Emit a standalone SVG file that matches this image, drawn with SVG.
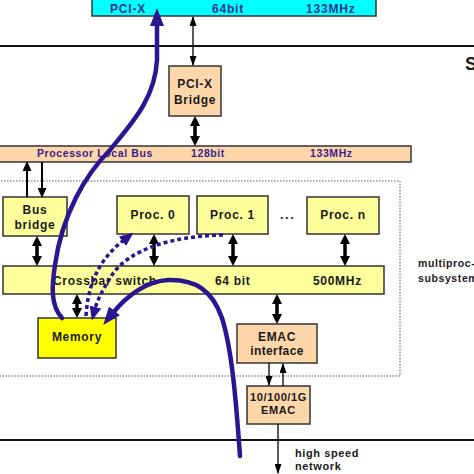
<svg xmlns="http://www.w3.org/2000/svg" width="474" height="474" viewBox="0 0 474 474">
<style>
  .box{stroke:#333;stroke-width:1.5}
  .peach{fill:#fdd7aa}
  .ly{fill:#ffff9c}
  .my{fill:#ffff00}
  .cy{fill:#00ffff}
  .t{font-family:"Liberation Sans",Arial,sans-serif;font-weight:bold;font-size:12px;fill:#1a1a1a;letter-spacing:0.7px}
  .c{text-anchor:middle}
  .bt{font-family:"Liberation Sans",Arial,sans-serif;font-weight:bold;font-size:10.5px;fill:#3b1b8c;letter-spacing:0.6px}
  .pt{font-family:"Liberation Sans",Arial,sans-serif;font-weight:bold;font-size:12px;fill:#26358f;letter-spacing:0.8px}
  .s{font-family:"Liberation Sans",Arial,sans-serif;font-weight:bold;font-size:11px;fill:#1a1a1a;letter-spacing:0.6px}
  .thk{stroke:#000;stroke-width:3.5;fill:none;marker-start:url(#ak);marker-end:url(#ak)}
  .thn{stroke:#000;stroke-width:1.3;fill:none}
  .med{stroke:#000;stroke-width:2;fill:none}
  .pur{stroke:#2b1590;stroke-width:4.5;fill:none;stroke-linecap:round}
  .dot{stroke:#2b1590;stroke-width:3.5;fill:none;stroke-dasharray:4 3}
  .rule{stroke:#111;stroke-width:2}
</style>
<defs>
  <marker id="ak" viewBox="0 0 10 10" refX="6.5" refY="5" markerWidth="10" markerHeight="10" markerUnits="userSpaceOnUse" orient="auto-start-reverse"><path d="M0,0L10,5L0,10z" fill="#000"/></marker>
  <marker id="am" viewBox="0 0 10 9" refX="8" refY="4.5" markerWidth="10" markerHeight="9" markerUnits="userSpaceOnUse" orient="auto-start-reverse"><path d="M0,0L10,4.5L0,9z" fill="#000"/></marker>
  <marker id="at" viewBox="0 0 10 7" refX="9" refY="3.5" markerWidth="10" markerHeight="7" markerUnits="userSpaceOnUse" orient="auto-start-reverse"><path d="M0,0L10,3.5L0,7z" fill="#000"/></marker>
  <marker id="pa" viewBox="0 0 18 14" refX="4" refY="7" markerWidth="18" markerHeight="14" markerUnits="userSpaceOnUse" orient="auto"><path d="M0,0L18,7L0,14z" fill="#2b1590"/></marker>
  <marker id="pd" viewBox="0 0 14 12" refX="2" refY="6" markerWidth="14" markerHeight="12" markerUnits="userSpaceOnUse" orient="auto"><path d="M0,0L14,6L0,12z" fill="#2b1590"/></marker>
</defs>
<rect width="474" height="474" fill="#fff"/>

<g id="frame">
  <line class="rule" x1="0" y1="46" x2="474" y2="46"/>
  <line class="rule" x1="0" y1="440" x2="474" y2="440"/>
  <rect x="-5" y="181" width="405" height="195" fill="none" stroke="#555" stroke-width="1" stroke-dasharray="1.5 1.5"/>
  <text class="t" x="465" y="70" style="font-size:18px">S</text>
  <text class="bt" x="418" y="267" style="fill:#1a1a1a">multiproc-</text>
  <text class="bt" x="418" y="282" style="fill:#1a1a1a">subsystem</text>
  <text class="s" x="295" y="457">high speed</text>
  <text class="s" x="295" y="470">network</text>
</g>

<g id="pcix-bus">
  <rect class="box cy" x="92" y="-3" width="284" height="19"/>
  <text class="pt" x="110" y="13">PCI-X</text>
  <text class="pt" x="212" y="13">64bit</text>
  <text class="pt" x="306" y="13">133MHz</text>
</g>

<g id="pcix-bridge">
  <rect class="box peach" x="169" y="66" width="52" height="50"/>
  <text class="t c" x="195" y="88">PCI-X</text>
  <text class="t c" x="195" y="103.5">Bridge</text>
</g>

<g id="plb">
  <rect class="box peach" x="-3" y="146" width="414" height="16"/>
  <text class="bt" x="37" y="157">Processor Local Bus</text>
  <text class="bt" x="191" y="157">128bit</text>
  <text class="bt" x="310" y="157">133MHz</text>
</g>

<g id="bus-bridge">
  <rect class="box ly" x="3" y="197" width="64" height="39"/>
  <text class="t c" x="35" y="214">Bus</text>
  <text class="t c" x="35" y="229">bridge</text>
</g>

<g id="proc0">
  <rect class="box ly" x="117" y="196" width="72" height="38"/>
  <text class="t c" x="153" y="219">Proc. 0</text>
</g>

<g id="proc1">
  <rect class="box ly" x="197" y="196" width="71" height="38"/>
  <text class="t c" x="232.5" y="219">Proc. 1</text>
</g>

<g id="ellipsis">
  <text class="t" x="280" y="219" style="font-size:13px;letter-spacing:1.5px">...</text>
</g>

<g id="procn">
  <rect class="box ly" x="307" y="197" width="72" height="37"/>
  <text class="t c" x="343" y="219">Proc. n</text>
</g>

<g id="crossbar">
  <rect class="box ly" x="3" y="266" width="381" height="28"/>
  <text class="t" x="53" y="285">Crossbar switch</text>
  <text class="t" x="215" y="285">64 bit</text>
  <text class="t" x="313" y="285">500MHz</text>
</g>

<g id="memory">
  <rect class="box my" x="38" y="318" width="78" height="40"/>
  <text class="t c" x="77" y="341">Memory</text>
</g>

<g id="emac-if">
  <rect class="box peach" x="237" y="324" width="80" height="39"/>
  <text class="t c" x="277" y="341">EMAC</text>
  <text class="t c" x="277" y="355" style="letter-spacing:0.4px">interface</text>
</g>

<g id="emac">
  <rect class="box peach" x="247" y="386" width="63" height="38"/>
  <text class="s c" x="278.5" y="401">10/100/1G</text>
  <text class="s c" x="278.5" y="414">EMAC</text>
</g>

<g id="connectors">
  <line class="thn" x1="193" y1="17" x2="193" y2="65" marker-start="url(#at)" marker-end="url(#at)"/>
  <line class="thk" x1="195" y1="119.5" x2="195" y2="142.5"/>
  <line class="med" x1="27" y1="197" x2="27" y2="163" marker-end="url(#am)"/>
  <line class="med" x1="42" y1="162" x2="42" y2="196" marker-end="url(#am)"/>
  <line class="thk" x1="37" y1="239.5" x2="37" y2="262.5"/>
  <line class="thk" x1="154" y1="237.5" x2="154" y2="262.5"/>
  <line class="thk" x1="233" y1="237.5" x2="233" y2="262.5"/>
  <line class="thk" x1="345" y1="237.5" x2="345" y2="262.5"/>
  <line class="thk" x1="77" y1="297.5" x2="77" y2="314.5"/>
  <line class="thk" x1="277" y1="297.5" x2="277" y2="320.5"/>
  <line class="thn" x1="269" y1="363" x2="269" y2="385" marker-end="url(#at)"/>
  <line class="thn" x1="283" y1="386" x2="283" y2="364" marker-end="url(#at)"/>
  <line class="thn" x1="278" y1="424" x2="278" y2="473" marker-end="url(#at)"/>
  <path class="dot" d="M86,316 C88,285 98,260 124,240" marker-end="url(#pd)"/>
  <path class="dot" d="M223,235 C175,236 130,248 112,275 C104,288 98,298 95,309" marker-end="url(#pd)"/>
  <path class="pur" d="M62,318 C50,305 52,285 55,265 C62,215 85,175 110,150 C130,125 155,100 157,60 L157,22" marker-end="url(#pa)"/>
  <path class="pur" d="M240,456 C236,400 232,350 222,318 C212,290 195,279 168,280 C148,281 128,294 112,314" marker-end="url(#pa)"/>
</g>
</svg>
